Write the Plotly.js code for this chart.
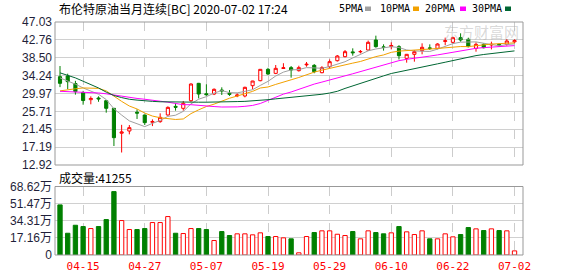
<!DOCTYPE html>
<html>
<head>
<meta charset="utf-8">
<script src="https://cdn.plot.ly/plotly-3.0.1.min.js"></script>
<style>html,body{margin:0;padding:0;background:#fff;}#chart{width:578px;height:276px;}</style>
</head>
<body>
<div id="chart"></div>
<script>
// ---- data ----
const dates = ["04-09","04-13","04-14","04-15","04-16","04-17","04-20","04-21","04-22","04-23","04-24","04-27","04-28","04-29","04-30","05-01","05-04","05-05","05-06","05-07","05-08","05-11","05-12","05-13","05-14","05-15","05-18","05-19","05-20","05-21","05-22","05-25","05-26","05-27","05-28","05-29","06-01","06-02","06-03","06-04","06-05","06-08","06-09","06-10","06-11","06-12","06-15","06-16","06-17","06-18","06-19","06-22","06-23","06-24","06-25","06-26","06-29","06-30","07-01","07-02"];
const opens  = [33.99,34.15,32.35,30.2,28.5,28.9,28.26,26.44,20.5,21.03,25.5,24.85,23.1,23.26,24.85,26.9,26.44,28.26,32.4,29.9,29.85,30.8,30.0,29.4,29.38,31.84,33.03,35.74,34.78,35.95,36.14,35.42,36.8,36.69,34.94,36.37,37.8,38.76,39.9,39.9,40.35,42.74,41.1,41.2,41.15,38.36,39.32,40.19,40.85,40.75,42.4,42.18,43.29,42.9,40.75,41.7,41.55,41.7,41.7,42.3];
const highs  = [36.53,34.7,33.0,30.6,29.3,29.3,28.4,26.5,22.5,22.46,26.2,24.9,23.8,25.24,26.9,27.63,28.19,32.4,32.5,32.16,31.2,31.45,30.8,30.0,31.6,33.0,35.8,36.1,36.77,37.2,36.53,36.6,37.49,37.0,36.5,38.1,39.15,40.35,40.75,40.35,42.6,43.77,41.7,42.18,41.5,39.4,40.35,41.94,41.7,41.94,43.3,43.53,44.33,43.29,42.18,41.94,42.34,41.9,42.97,42.97];
const lows   = [31.5,31.0,29.7,27.3,27.4,28.0,25.4,17.45,15.9,20.23,23.9,22.46,22.2,23.0,24.7,25.88,25.88,28.0,28.82,29.46,29.6,29.62,29.4,29.1,29.06,30.97,32.9,34.4,34.6,35.9,33.75,35.2,36.37,34.8,34.8,36.0,37.6,38.6,39.0,39.55,40.2,40.9,40.2,40.5,38.1,37.33,37.57,39.32,40.35,40.5,41.5,41.94,42.34,40.99,39.95,40.75,40.5,41.2,41.38,41.94];
const closes = [32.4,32.8,30.41,28.3,28.8,28.7,26.44,19.44,20.8,21.83,25.3,23.02,23.3,24.29,26.67,26.7,27.63,32.24,29.85,29.7,30.97,30.6,29.8,29.6,31.45,32.95,35.74,34.62,35.98,36.1,35.58,36.14,36.95,35.18,36.14,37.57,38.92,39.95,39.7,40.0,42.18,41.15,40.95,41.4,39.0,39.32,39.95,40.99,40.75,41.78,42.55,43.29,42.74,41.15,41.7,40.9,41.7,41.38,42.5,42.6];
// volume, in 万 (10,000)
const volumes = [50.2,21.8,29.8,28.5,26.5,28.5,35.5,63.5,34.5,25.5,25.5,26.5,32.5,32.5,38.5,21.8,21.5,26.5,26.5,25.5,14.5,23.5,19.5,21.2,21.2,20.2,22.2,18.5,18.5,17.2,16.2,2.2,18.5,22.5,24.2,24.2,20.8,19.5,23.5,16.2,24.2,22.5,21.2,22.2,28.5,23.2,20.5,24.2,16.2,16.2,21.2,18.2,20.5,27.5,26.2,24.5,26.2,24.5,24.2,4.1255];
const ma5Early  = [33.7,33.0,32.2,31.3];
const ma10Early = [30.6,30.9,31.1,31.3,31.3,31.2,30.6,29.3,28.1];
const ma20Early = [30.5,30.45,30.4,30.3,30.2,30.1,29.9,29.6,29.3,29.0,28.8,28.6,28.4,28.2,27.9,27.6,27.3,27.3,27.1];
const ma30Early = [34.9,34.3,33.7,32.9,32.1,31.3,30.3,29.5,29.0,28.6,28.4,28.2,28.1,28.0,27.95,27.95,27.95,27.95,27.9,27.9,27.9,27.95,28.0,28.05,28.1,28.2,28.3,28.5,28.7];
const tickDates = ["04-15","04-27","05-07","05-19","05-29","06-10","06-22","07-02"];
const priceTickLabels = ["12.92","17.19","21.45","25.71","29.97","34.24","38.50","42.76","47.03"];
const volTickLabels = ["0","17.16万","34.31万","51.47万","68.62万"];
const volTickValues = [0,17.16,34.31,51.47,68.62];
const title = "布伦特原油当月连续[BC] 2020-07-02 17:24";
const maNames = ["5PMA","10PMA","20PMA","30PMA"];

// ---- derived ----
function movingAvg(n, early){
  return closes.map((c,i)=>{
    if(i < n-1) return early[i];
    let s=0; for(let k=i-n+1;k<=i;k++) s+=closes[k];
    return s/n;
  });
}
const maColors = ["#a0a0a0","#f2a100","#ff00ff","#006633"];
const maSeries = [movingAvg(5,ma5Early),movingAvg(10,ma10Early),movingAvg(20,ma20Early),movingAvg(30,ma30Early)];
const RED="#ff0000", GREEN="#008000";
const isUp = closes.map((c,i)=> c >= opens[i]);

const traces = [];
traces.push({
  type:'candlestick', x:dates, open:opens, high:highs, low:lows, close:closes,
  xaxis:'x', yaxis:'y', hoverinfo:'skip',
  increasing:{line:{color:RED,width:1}, fillcolor:'#ffffff'},
  decreasing:{line:{color:GREEN,width:1}, fillcolor:GREEN},
  whiskerwidth:0
});
maSeries.forEach((s,k)=>{
  traces.push({type:'scatter',mode:'lines',x:dates,y:s,xaxis:'x',yaxis:'y',
    line:{color:maColors[k],width:1},hoverinfo:'skip'});
});
traces.push({
  type:'bar', x:dates, y:volumes, xaxis:'x', yaxis:'y2', width:0.56,
  marker:{color:isUp.map(u=>u?'#ffffff':GREEN), line:{color:isUp.map(u=>u?RED:GREEN),width:1}},
  hoverinfo:'skip'
});

const L=55, R=523, T=22, B=255;
const W=R-L, H=B-T;
const px=x=>(x-L)/W, py=y=>(B-y)/H;

const annotations = [
  {text:title, x:px(57), y:py(8.5), xref:'paper', yref:'paper', xanchor:'left', yanchor:'middle', showarrow:false,
   font:{family:'"Noto Sans CJK SC", sans-serif', size:12, color:'#000'}},
  {text:'成交量:'+Math.round(volumes[volumes.length-1]*10000), x:px(57), y:py(177.5), xref:'paper', yref:'paper', xanchor:'left', yanchor:'middle', showarrow:false,
   font:{family:'"Noto Sans CJK SC", sans-serif', size:12, color:'#000'}},
  {text:'东方财富网', x:px(521), y:py(31), xref:'paper', yref:'paper', xanchor:'right', yanchor:'middle', showarrow:false,
   font:{family:'"Noto Sans CJK SC", sans-serif', size:15, color:'rgba(170,170,170,0.45)'}}
];
const legendEnd = [363,410,455,502];
const legendSq = [365,413,460,505];
const shapes = [];
maNames.forEach((n,k)=>{
  annotations.push({text:n, x:px(legendEnd[k]+1), y:py(8.5), xref:'paper', yref:'paper', xanchor:'right', yanchor:'middle', showarrow:false,
    borderpad:0, font:{family:'"DejaVu Sans Mono", monospace', size:10, color:'#000'}});
  shapes.push({type:'rect', xref:'paper', yref:'paper', x0:px(legendSq[k]), x1:px(legendSq[k]+6), y0:py(11), y1:py(6.5),
    fillcolor:maColors[k], line:{width:0}});
});
// frames
shapes.push({type:'rect', xref:'paper', yref:'y domain', x0:0, x1:1, y0:0, y1:1, line:{color:'#999',width:1}, fillcolor:'rgba(0,0,0,0)', layer:'above'});
shapes.push({type:'rect', xref:'paper', yref:'y2 domain', x0:0, x1:1, y0:0, y1:1, line:{color:'#999',width:1}, fillcolor:'rgba(0,0,0,0)', layer:'above'});

const layout = {
  width:578, height:276,
  margin:{l:L, r:578-R, t:T, b:276-B, pad:0},
  paper_bgcolor:'#ffffff', plot_bgcolor:'#ffffff',
  showlegend:false, boxgap:0.42, barmode:'overlay',
  xaxis:{type:'category', range:[-0.65,60.1], anchor:'y2', tickmode:'array', tickvals:tickDates, ticktext:tickDates,
    showgrid:true, gridcolor:'#cccccc', griddash:'dash', gridwidth:1, zeroline:false, showline:false, ticks:'',
    tickfont:{family:'"DejaVu Sans Mono", monospace', size:11, color:RED}, ticklabelstandoff:3,
    rangeslider:{visible:false}, fixedrange:true},
  yaxis:{domain:[py(165),1], range:[12.92,47.03], tickmode:'array', tickvals:priceTickLabels.map(Number), ticktext:priceTickLabels,
    showgrid:true, gridcolor:'#d0d0d0', gridwidth:1, zeroline:false, showline:false, ticks:'',
    tickfont:{family:'"Liberation Sans", Arial, sans-serif', size:12, color:'#1f1f3a'}, ticklabelstandoff:2, fixedrange:true},
  yaxis2:{domain:[0,py(186.5)], range:[0,68.62], tickmode:'array', tickvals:volTickValues, ticktext:volTickLabels,
    showgrid:true, gridcolor:'#d0d0d0', gridwidth:1, zeroline:false, showline:false, ticks:'',
    tickfont:{family:'"Liberation Sans", "Noto Sans CJK SC", sans-serif', size:12, color:'#1f1f3a'}, ticklabelstandoff:2, fixedrange:true},
  annotations, shapes
};
Plotly.newPlot('chart', traces, layout, {displayModeBar:false, staticPlot:true});
</script>
</body>
</html>
